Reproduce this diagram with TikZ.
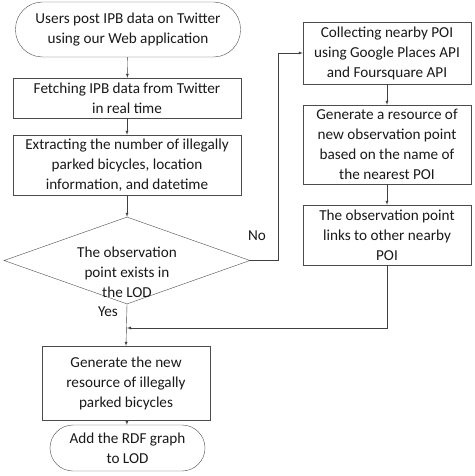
\documentclass[tikz,border=0pt]{standalone}
\usepackage{fontspec}
\setmainfont{Carlito}
\usetikzlibrary{shapes.geometric}

\begin{document}
\begin{tikzpicture}[x=1pt, y=-1pt,
	every node/.style={font=\fontsize{15.2}{20}\selectfont, align=center, text=black!90},
	box/.style={draw=black!70, rectangle, inner sep=0pt},
	term/.style={draw=black!70, rectangle, inner sep=0pt},
	flow/.style={draw=black!75, -latex}]
	\useasboundingbox (0, 0) rectangle (474, 476);
	\node[term, rounded corners=27pt, minimum width=225pt, minimum height=55pt] (post) at (128, 29.5)
		{Users post IPB data on Twitter\\using our Web application};
	\node[box, minimum width=228pt, minimum height=40pt] (fetch) at (127, 98)
		{Fetching IPB data from Twitter\\in real time};
	\node[box, minimum width=228pt, minimum height=60pt] (extract) at (127, 165)
		{Extracting the number of illegally\\parked bicycles, location\\information, and datetime};
	\node[draw=black!70, diamond, inner sep=0pt, minimum width=246pt, minimum height=87pt] (exists) at (127, 260.5) {};
	\node (existstext) at (127, 272) {The observation\\point exists in\\the LOD};
	\node[box, minimum width=168pt, minimum height=62pt] (collect) at (387, 53)
		{Collecting nearby POI\\using Google Places API\\and Foursquare API};
	\node[box, minimum width=168pt, minimum height=79pt] (genpoint) at (387, 144.5)
		{Generate a resource of\\new observation point\\based on the name of\\the nearest POI};
	\node[box, minimum width=168pt, minimum height=60pt] (links) at (387, 235)
		{The observation point\\links to other nearby\\POI};
	\node[box, minimum width=168pt, minimum height=74pt] (newres) at (126, 383)
		{Generate the new\\resource of illegally\\parked bicycles};
	\node[term, rounded corners=23pt, minimum width=155pt, minimum height=46pt] (addrdf) at (127.5, 448)
		{Add the RDF graph\\to LOD};
	\coordinate (merge) at (127, 328);
	\draw[flow] (post) -- (fetch);
	\draw[flow] (fetch) -- (extract);
	\draw[flow] (extract) -- (exists);
	\draw[flow] (exists.south) -- (newres.north);
	\node (yes) at (108, 312) {Yes};
	\draw[flow] (exists.east) -- (278, 260.5) |- (collect.west);
	\node (no) at (257, 236) {No};
	\draw[flow] (collect) -- (genpoint);
	\draw[flow] (genpoint) -- (links);
	\draw[flow] (links.south) |- (merge);
	\draw[flow] (newres) -- (addrdf);
\end{tikzpicture}
\end{document}
